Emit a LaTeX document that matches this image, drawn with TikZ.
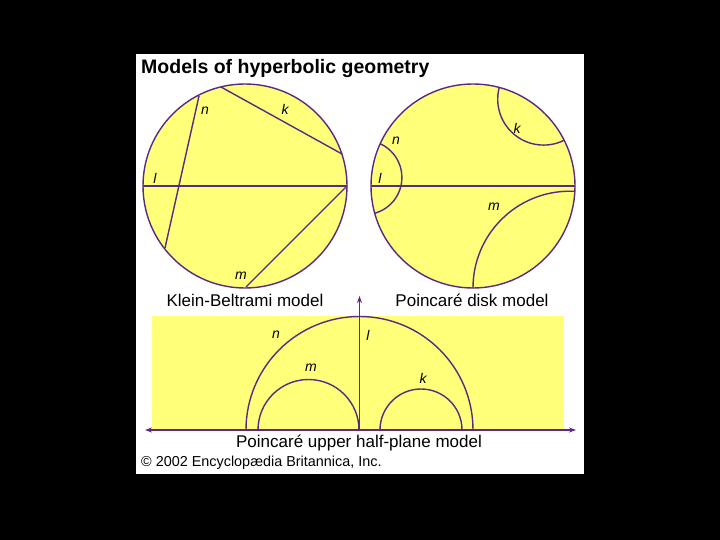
\documentclass[tikz,border=0pt]{standalone}
\usepackage{fontspec}
\setmainfont{Liberation Sans}
\usetikzlibrary{arrows.meta}
\definecolor{yel}{HTML}{FFFF7A}
\definecolor{pur}{HTML}{5A2A82}
\begin{document}
\begin{tikzpicture}[x=1pt,y=-1pt,
  ln/.style={draw=pur,line width=1.4pt},
  lab/.style={font=\fontsize{14}{15}\selectfont\itshape,inner sep=0pt},
  captxt/.style={font=\fontsize{17}{19}\selectfont,inner sep=0pt}]
\fill[black] (0,0) rectangle (720,540);
\useasboundingbox (0,0) rectangle (720,540);
\fill[white] (136,54) rectangle (584,474);
\node[anchor=west,font=\fontsize{19.5}{21}\selectfont\bfseries,inner sep=0pt] (title) at (141,69) {Models of hyperbolic geometry};
% Klein
\coordinate (kc) at (245,186);
\fill[yel] (kc) circle (102);
\coordinate (kl) at (143,186); \coordinate (kr) at (347,186);
\coordinate (n1) at (199,96); \coordinate (n2) at (165,248);
\coordinate (k1) at (221,87); \coordinate (k2) at (342,154);
\coordinate (m2) at (246,287);
\draw[ln] (kl) -- (kr);
\draw[ln] (n1) -- (n2);
\draw[ln] (k1) -- (k2);
\draw[ln] (kr) -- (m2);
\draw[ln] (kc) circle (102);
\node[lab] (kn) at (205,111) {n};
\node[lab] (kk) at (285,109) {k};
\node[lab] (kll) at (155,178) {l};
\node[lab] (km) at (241,276) {m};
% Poincare disk
\coordinate (pc) at (473,186);
\fill[yel] (pc) circle (102);
\begin{scope}
\clip (pc) circle (102);
\draw[ln] (543.6,99.2) circle (45.9);
\draw[ln] (364.8,177.5) circle (37.1);
\draw[ln] (569.8,288) circle (96.8);
\end{scope}
\draw[ln] (371,186) -- (575,186);
\draw[ln] (pc) circle (102);
\node[lab] (pn) at (396,141) {n};
\node[lab] (pk) at (517,128) {k};
\node[lab] (pl) at (380,178) {l};
\node[lab] (pm) at (494,207) {m};
\node[captxt] (c1) at (245,300) {Klein-Beltrami model};
\node[captxt] (c2) at (472,300) {Poincaré disk model};
% half plane
\fill[yel] (152,316) rectangle (564,430);
\coordinate (o) at (359.5,430);
\draw[ln] (246,430) arc[start angle=180,end angle=360,radius=113.5];
\draw[ln] (258,430) arc[start angle=180,end angle=360,radius=50.5];
\draw[ln] (380,430) arc[start angle=180,end angle=360,radius=41];
\coordinate (ax1) at (145,430); \coordinate (ax2) at (576,430); \coordinate (top) at (359.5,296);
\draw[ln,{Stealth[length=7pt,width=5pt]}-{Stealth[length=7pt,width=5pt]}] (ax1) -- (ax2);
\draw[ln,-{Stealth[length=7pt,width=5pt]}] (o) -- (top);
\node[lab] (hn) at (276,335) {n};
\node[lab] (hl) at (368,335) {l};
\node[lab] (hm) at (311,368) {m};
\node[lab] (hk) at (423,378) {k};
\node[captxt] (c3) at (359,443) {Poincaré upper half-plane model};
\node[anchor=west,font=\fontsize{14.4}{16}\selectfont,inner sep=0pt] (copy) at (141,463) {© 2002 Encyclopædia Britannica, Inc.};
\end{tikzpicture}
\end{document}
